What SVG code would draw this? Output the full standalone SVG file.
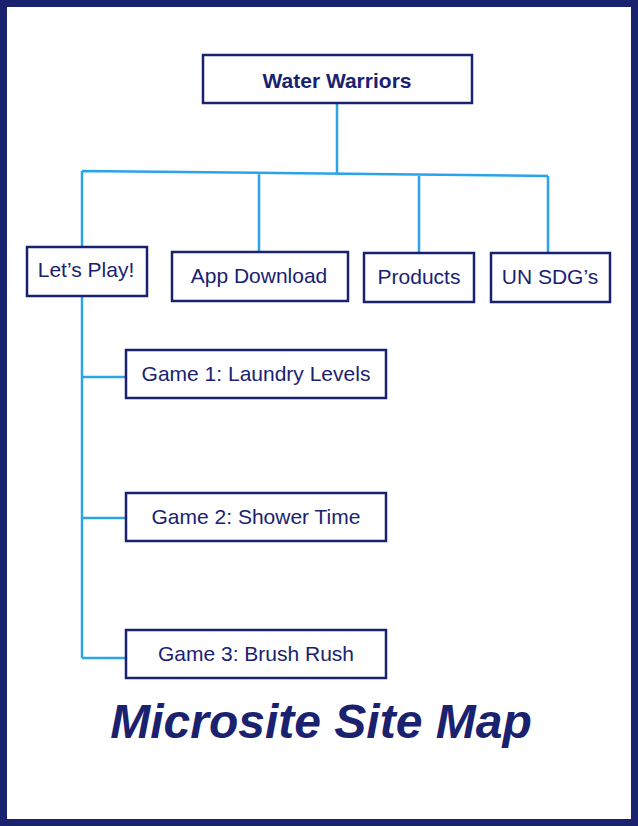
<svg xmlns="http://www.w3.org/2000/svg" width="638" height="826" viewBox="0 0 638 826">
<style>
.b{fill:#fff;stroke:#1a2270;stroke-width:2.5}
.t{font-family:"Liberation Sans",Arial,sans-serif;font-size:21px;fill:#1a2270;text-anchor:middle}
.c{stroke:#2aa3e8;stroke-width:2.5;fill:none}
</style>
<rect x="0" y="0" width="638" height="826" fill="#fff"/>
<rect x="3.5" y="3.5" width="631" height="819" fill="none" stroke="#1a2270" stroke-width="7"/>
<g id="connectors" class="c">
<path d="M337 104V173M82 171L548 176M82 171V247M259 173V252M419 175V253M548 176V253"/>
<path d="M82 296V658M82 377H126M82 518H126M82 658H126"/>
</g>
<g id="root"><rect class="b" x="203" y="55" width="269" height="48" stroke-width="5"/><text class="t" x="337" y="88" font-weight="bold" font-size="24">Water Warriors</text></g>
<g id="play"><rect class="b" x="27" y="247" width="120" height="49"/><text class="t" x="86" y="277">Let’s Play!</text></g>
<g id="app"><rect class="b" x="172" y="252" width="176" height="49"/><text class="t" x="259" y="283">App Download</text></g>
<g id="products"><rect class="b" x="364" y="253" width="110" height="49"/><text class="t" x="419" y="284">Products</text></g>
<g id="sdg"><rect class="b" x="491" y="253" width="119" height="49"/><text class="t" x="550" y="284">UN SDG’s</text></g>
<g id="g1"><rect class="b" x="126" y="350" width="260" height="48"/><text class="t" x="256" y="381">Game 1: Laundry Levels</text></g>
<g id="g2"><rect class="b" x="126" y="493" width="260" height="48"/><text class="t" x="256" y="524">Game 2: Shower Time</text></g>
<g id="g3"><rect class="b" x="126" y="630" width="260" height="48"/><text class="t" x="256" y="661">Game 3: Brush Rush</text></g>
<text x="321" y="738" font-family="'Liberation Sans',Arial,sans-serif" font-size="48" font-weight="bold" font-style="italic" fill="#1a2270" text-anchor="middle">Microsite Site Map</text>
</svg>
